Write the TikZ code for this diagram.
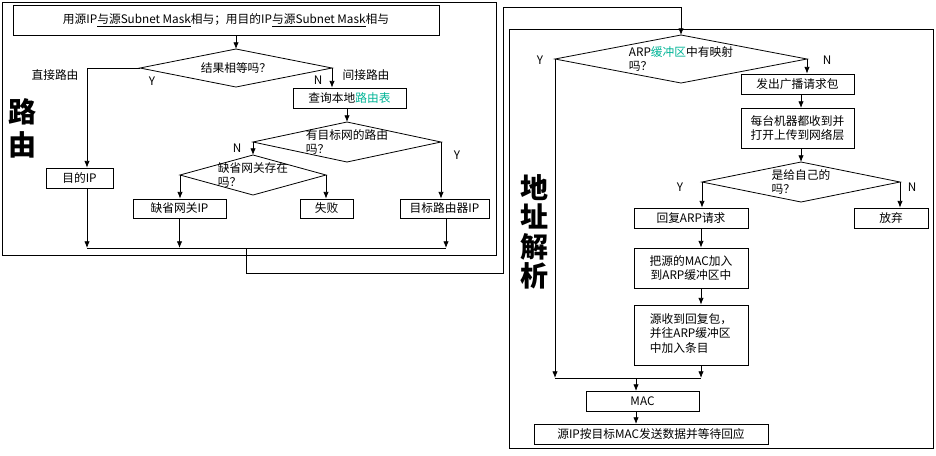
\documentclass[tikz,border=0pt]{standalone}
\usepackage{fontspec}
\setmainfont{Noto Sans CJK SC}
\usetikzlibrary{arrows.meta}
\definecolor{tl}{RGB}{0,180,150}
\begin{document}
\begin{tikzpicture}[x=0.75pt,y=-0.75pt,font=\fontsize{8.8}{11}\selectfont,
 box/.style={draw,line width=0.6pt,inner sep=1pt,align=center},
 ar/.style={-{Latex[length=5pt,width=4pt]},line width=0.6pt},
 ln/.style={line width=0.6pt},
 lb/.style={inner sep=0pt},
 big/.style={inner sep=0pt,font=\fontsize{21}{24}\selectfont\bfseries}]
\useasboundingbox (0,0) rectangle (936,455);
\newcommand\bx[6]{\node[box,minimum width={(#4)*0.75pt},minimum height={(#5)*0.75pt}] (#1) at (#2,#3) {#6};}
\newcommand\dm[6]{\coordinate (#1t) at (#2,#3); \coordinate (#1l) at (#4,#5); \coordinate (#1r) at ({2*#2-#4},#5); \coordinate (#1b) at (#2,{2*#5-#3}); \draw[ln] (#1t)--(#1r)--(#1b)--(#1l)--cycle; \node[lb,align=left] at (#2,#5) {#6};}
% frames
\draw[ln] (2,2) rectangle (496,255);
\draw[ln] (509,29) rectangle (933,448);
\node[big] (lu1) at (22,112) {路};
\node[big] (lu2) at (22,145) {由};
\node[big,align=center] (dz) at (534,232) {地\\[-2pt]址\\[-2pt]解\\[-2pt]析};
% left part
\bx{top}{226}{20}{426}{30}{用源IP\underline{与源Subnet Mask}相与；用目的IP\underline{与源Subnet Mask}相与}
\dm{da}{236}{49}{140}{68}{结果相等吗？}
\draw[ar] (top.south -| dat) -- (dat);
\bx{cx}{349.5}{98}{113}{20}{查询本地\textcolor{tl}{路由表}}
\bx{mip}{79.5}{178}{67}{20}{目的IP}
\node[lb] (y1) at (152,81) {Y};
\node[lb] (zj) at (55,75) {直接路由};
\node[lb] (n1) at (318,80) {N};
\node[lb] (jj) at (366,75) {间接路由};
\coordinate (c1) at (87,68);
\draw[ar] (dal) -- (c1) -- (c1 |- mip.north);
\draw[ar] (dar) -- (dar |- cx.north);
\dm{db}{347}{122}{253}{142}{有目标网的路由\\吗？\hspace{4em}}
\draw[ar] (cx.south -| dbt) -- (dbt);
\node[lb] (n2) at (237,148) {N};
\node[lb] (y2) at (457,155) {Y};
\dm{dc}{253}{155}{180}{175}{缺省网关存在\\吗？\hspace{3em}}
\draw[ar] (dbl) -- (dct);
\bx{qip}{179.5}{208.5}{93}{19}{缺省网关IP}
\bx{sb}{326.5}{208.5}{53}{19}{失败}
\bx{mlr}{444.5}{208.5}{89}{19}{目标路由器IP}
\draw[ar] (dbr) -- (dbr |- mlr.north);
\draw[ar] (dcl) -- (dcl |- qip.north);
\draw[ar] (dcr) -- (dcr |- sb.north);
\coordinate (j1) at (87,248); \coordinate (j2) at (446,248);
\draw[ar] (mip.south -| j1) -- (j1);
\draw[ar] (qip.south) -- (qip.south |- j1);
\draw[ar] (mlr.south -| j2) -- (j2);
\draw[ln] (j1) -- (j2);
% link
\coordinate (k1) at (246,248);
\draw[ar] (k1) -- (246,273) -- (503,273) -- (503,7) -- (681,7) -- (681,35);
% right part
\dm{de}{681}{35}{555}{59}{ARP\textcolor{tl}{缓冲区}中有映射\\吗？}
\node[lb] (y3) at (540,60) {Y};
\node[lb] (n3) at (827,60) {N};
\bx{fc}{797.5}{84}{113}{20}{发出广播请求包}
\draw[ar] (der) -- (der |- fc.north);
\bx{mt}{797.5}{128}{113}{40}{每台机器都收到并\\打开上传到网络层}
\draw[ar] (801,94) -- (801,108);
\dm{df}{801}{162}{702}{182}{是给自己的\\吗？}
\draw[ar] (801,148) -- (dft);
\node[lb] (y4) at (680,187) {Y};
\node[lb] (n4) at (912,187) {N};
\bx{hf}{691}{218}{114}{20}{回复ARP请求}
\bx{fq}{891}{218}{74}{20}{放弃}
\draw[ar] (dfl) -- (dfl |- hf.north);
\draw[ar] (dfr) -- (dfr |- fq.north);
\bx{by}{691}{268}{114}{40}{把源的MAC加入\\到ARP缓冲区中}
\bx{ys}{691}{335}{114}{60}{\begin{tabular}{@{}l@{}}源收到回复包，\\并往ARP缓冲区\\中加入条目\end{tabular}}
\coordinate (m1) at (701,0);
\draw[ar] (hf.south -| m1) -- (by.north -| m1);
\draw[ar] (by.south -| m1) -- (ys.north -| m1);
\coordinate (j3) at (555,378); \coordinate (j4) at (701,378);
\draw[ar] (ys.south -| m1) -- (j4);
\draw[ar] (del) -- (j3);
\draw[ln] (j3) -- (j4);
\bx{mac}{642.5}{401}{113}{20}{MAC}
\bx{fs}{651}{434}{234}{20}{源IP按目标MAC发送数据并等待回应}
\draw[ar] (636,378) -- (636,391);
\draw[ar] (636,411) -- (636,424);
\end{tikzpicture}
\end{document}
